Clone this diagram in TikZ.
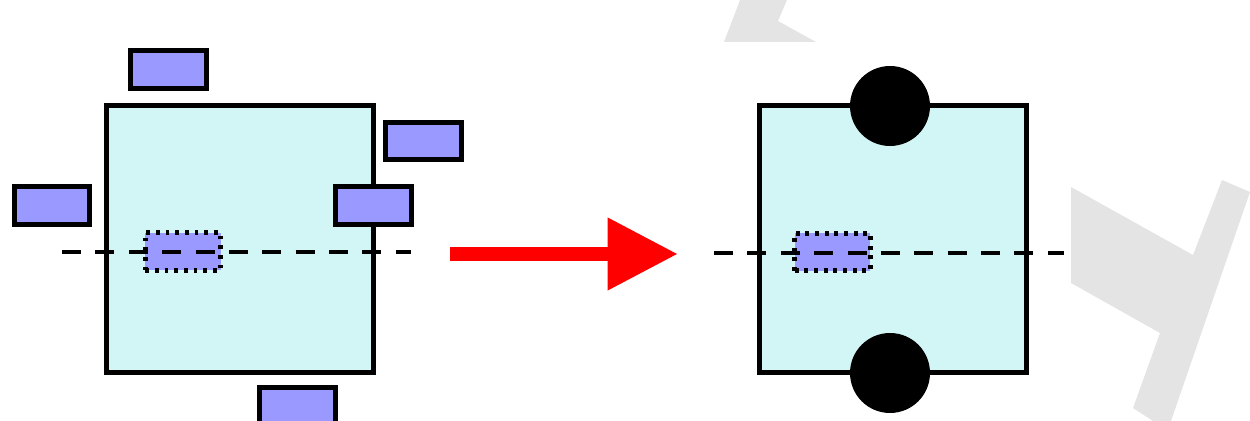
\documentclass[tikz,border=0pt]{standalone}
\usepackage{xcolor}
\usetikzlibrary{arrows.meta}
\definecolor{plate}{HTML}{D2F5F5}
\definecolor{pad}{HTML}{9999FF}
\definecolor{wmark}{HTML}{E4E4E4}
\begin{document}
\begin{tikzpicture}[x=0.02cm, y=-0.02cm,
    board/.style={rectangle, draw, line width=2.6pt, fill=plate, inner sep=0pt, minimum width=5.34cm, minimum height=5.34cm},
    padbox/.style={rectangle, draw, line width=2.6pt, fill=pad, inner sep=0pt, minimum width=1.51cm, minimum height=0.75cm},
    via/.style={padbox, dash pattern=on 2.2pt off 3.3pt},
    ball/.style={circle, fill=black, inner sep=0pt, minimum size=1.6cm},
    axis/.style={line width=2.6pt, dash pattern=on 10.8pt off 8.2pt}]
    \clip (0, 0) rectangle (1250, 421);

    % Background marks
    \fill [wmark] (740, 0) -- (724, 42) -- (816, 42) -- (778, 21) -- (787, 0) -- cycle;
    \fill [wmark] (1071, 187) -- (1193, 255) -- (1222, 180) -- (1250, 192) -- (1171, 421) -- (1153, 421) -- (1133, 408) -- (1160, 333) -- (1071, 283) -- cycle;

    % Before
    \node (boardL) [board] at (240, 239) {};
    \node (padT) [padbox] at (168.5, 69.5) {};
    \node (padR) [padbox] at (423.5, 141) {};
    \node (padW) [padbox] at (52, 205.5) {};
    \node (padE) [padbox] at (373.5, 205.5) {};
    \node (padS) [padbox] at (297.5, 406) {};
    \node (viaL) [via] at (183, 251.5) {};
    \coordinate (axisL1) at (62, 252);
    \coordinate (axisL2) at (411, 252);
    \draw [axis] (axisL1) -- (axisL2);

    % After
    \node (boardR) [board] at (893, 239) {};
    \node (ballT) [ball] at (890, 106) {};
    \node (ballS) [ball] at (890, 373) {};
    \node (viaR) [via] at (832.5, 252) {};
    \coordinate (axisR1) at (714, 253);
    \coordinate (axisR2) at (1064, 253);
    \draw [axis] (axisR1) -- (axisR2);

    % Arrow
    \coordinate (from) at (450, 254);
    \coordinate (to) at (678, 254);
    \draw [-{Triangle[length=40pt, width=39pt]}, red, line width=8.5pt] (from) -- (to);
\end{tikzpicture}
\end{document}
